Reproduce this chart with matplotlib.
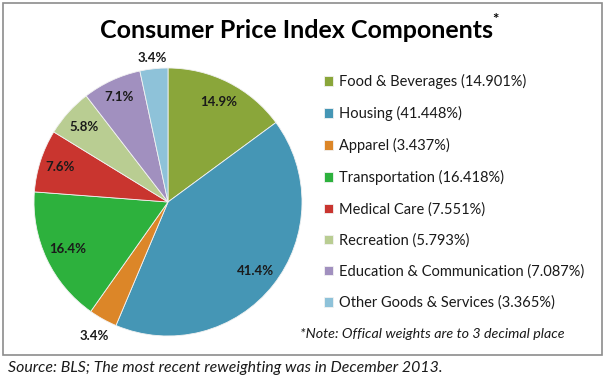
import numpy as np
import matplotlib
matplotlib.use('Agg')
import matplotlib.pyplot as plt
from matplotlib.patches import Rectangle

categories = ['Food & Beverages', 'Housing', 'Apparel', 'Transportation',
              'Medical Care', 'Recreation', 'Education & Communication',
              'Other Goods & Services']
weights = [14.901, 41.448, 3.437, 16.418, 7.551, 5.793, 7.087, 3.365]
slice_labels = ['14.9%', '41.4%', '3.4%', '16.4%', '7.6%', '5.8%', '7.1%', '3.4%']
colors = ['#8aa63a', '#4596b5', '#dc8628', '#2db13d', '#c9352f',
          '#b9cd92', '#a190bf', '#8ec2d9']
label_dist = [0.84, 0.83, 1.14, 0.83, 0.85, 0.84, 0.86, 1.08]

plt.rcParams['font.family'] = ['Lato', 'DejaVu Sans']

W, H = 605, 384
fig = plt.figure(figsize=(W / 100, H / 100), dpi=100)

# frame around the chart
fig.patches.append(Rectangle((3 / W, 29 / H), 599 / W, 352 / H,
                             transform=fig.transFigure, fill=False,
                             edgecolor='#8c8c8c', linewidth=1.2))

cx, cy, r = 168, 202, 134
ax = fig.add_axes([(cx - r) / W, (H - cy - r) / H, 2 * r / W, 2 * r / H])
wedges, _ = ax.pie(weights, colors=colors, startangle=90, counterclock=False,
                   wedgeprops=dict(edgecolor='#f2f2f2', linewidth=0.6))
ax.set_xlim(-1, 1)
ax.set_ylim(-1, 1)
ax.set_aspect('auto')
ax.axis('off')

for w, lab, d in zip(wedges, slice_labels, label_dist):
    ang = np.deg2rad((w.theta1 + w.theta2) / 2)
    ax.text(d * np.cos(ang), d * np.sin(ang), lab, ha='center', va='center',
            fontsize=9.5, fontweight='bold', color='#1a1a1a')

fig.text(296 / W, 1 - 30 / H, 'Consumer Price Index Components', ha='center',
         va='center', fontsize=18, fontweight='bold', color='black')
fig.text(492 / W, 1 - 20 / H, '*', ha='left', va='center', fontsize=11,
         fontweight='bold', color='black')

legend_labels = [f'{c} ({v:.3f}%)' for c, v in zip(categories, weights)]
fig.legend(wedges, legend_labels, loc='upper left',
           bbox_to_anchor=(311 / W, 1 - 61 / H), frameon=False,
           fontsize=10.5, handlelength=0.6, handleheight=0.6,
           handletextpad=0.4, labelspacing=1.16, labelcolor='#1a1a1a')

fig.text(300 / W, 1 - 334 / H, '*Note: Offical weights are to 3 decimal place',
         ha='left', va='center', fontsize=10.3, style='italic', color='#1a1a1a')
fig.text(8 / W, 1 - 368 / H,
         'Source: BLS; The most recent reweighting was in December 2013.',
         ha='left', va='center', fontsize=11.4, style='italic', color='#1a1a1a')

fig.savefig('out.png', dpi=100)
